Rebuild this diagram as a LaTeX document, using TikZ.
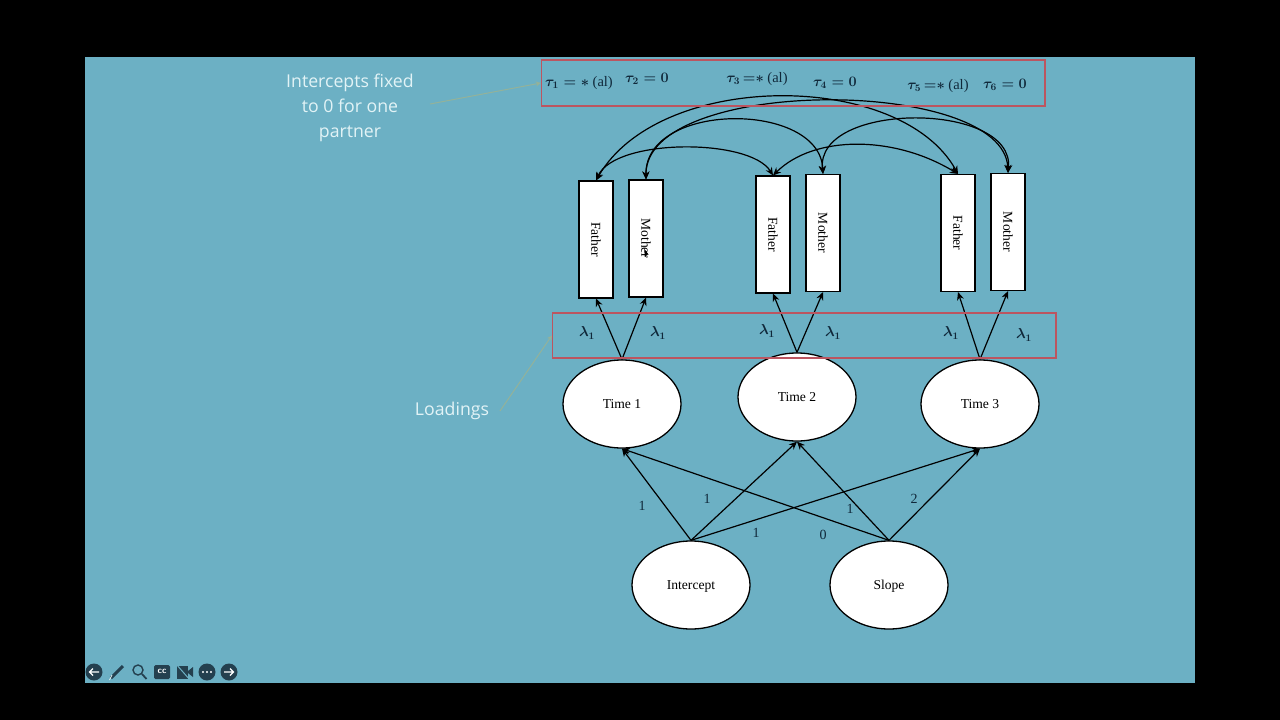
\documentclass[tikz,border=0pt]{standalone}
\usepackage{amsmath}
\usepackage{fontspec}
\usepackage{graphicx}
\setmainfont{Liberation Serif}
\newfontfamily\slidefont{Open Sans}
\usetikzlibrary{shapes.geometric,arrows.meta}
\definecolor{slidebg}{HTML}{6CB0C4}
\definecolor{slidetxt}{HTML}{E2F3F6}
\definecolor{redbox}{HTML}{BC5560}
\definecolor{pointer}{HTML}{93B29A}
\definecolor{icon}{HTML}{24404F}
\definecolor{labeltxt}{HTML}{10283A}
\tikzset{
  latent/.style={ellipse,draw=black,fill=white,line width=1.3pt,minimum width=118pt,minimum height=88pt,inner sep=0pt,text height=9pt,text depth=0pt,font=\fontsize{13.6}{15}\selectfont},
  observed/.style={rectangle,draw=black,fill=white,line width=1.1pt,minimum width=34pt,minimum height=117pt,inner sep=0pt,font=\fontsize{13.6}{15}\selectfont},
  link/.style={draw=black,line width=1.2pt,-{Stealth[length=8pt,width=7pt]}},
  covar/.style={draw=black,line width=1.2pt,{Stealth[length=8pt,width=7pt]}-{Stealth[length=8pt,width=7pt]}},
  redframe/.style={rectangle,draw=redbox,line width=1.3pt,fill=none,inner sep=0pt},
  coef/.style={font=\fontsize{14}{15}\selectfont,text=labeltxt,inner sep=0pt},
  lam/.style={font=\fontsize{14}{15}\selectfont,text=labeltxt,inner sep=0pt},
  tau/.style={font=\fontsize{14.5}{15}\selectfont,text=labeltxt,inner sep=0pt},
  note/.style={font=\slidefont\fontsize{17.7}{25}\selectfont,text=slidetxt,align=center,inner sep=0pt},
  pointerline/.style={draw=pointer,line width=1pt,-{Stealth[length=5pt,width=5pt,fill=pointer!60!orange]}},
  iconline/.style={draw=icon,line width=1.4pt},
}
\begin{document}
\begin{tikzpicture}[x=1pt,y=-1pt]
\useasboundingbox (0,0) rectangle (1280,720);
\fill[black] (0,0) rectangle (1280,720);
\fill[slidebg] (85,57) rectangle (1195,683);

% Observed
\node[observed] (f1) at (596,239.5) {\rotatebox{-90}{Father}};
\node[observed] (m1) at (646,238.5) {\rotatebox{-90}{Mother}};
\node[observed] (f2) at (773,234.5) {\rotatebox{-90}{Father}};
\node[observed] (m2) at (823,233) {\rotatebox{-90}{Mother}};
\node[observed] (f3) at (958,233) {\rotatebox{-90}{Father}};
\node[observed] (m3) at (1008,232) {\rotatebox{-90}{Mother}};
\fill[black] (644.5,249) -- (648.5,254.5) -- (646.5,254.5) -- (645.5,257) -- (644.5,256.5) -- cycle;

% Latent
\node[latent] (t1) at (622,404) {Time 1};
\node[latent] (t2) at (797,397) {Time 2};
\node[latent] (t3) at (980,404) {Time 3};
\node[latent] (ic) at (691,585) {Intercept};
\node[latent] (sl) at (889,585) {Slope};

% Loadings
\foreach \a/\b in {t1/f1,t1/m1,t2/f2,t2/m2,t3/f3,t3/m3}
  \draw[link] (\a.north) -- (\b.south);
% Growth
\foreach \a/\b in {ic/t1,ic/t2,ic/t3,sl/t1,sl/t2,sl/t3}
  \draw[link] (\a.north) -- (\b.south);

% Covariances
\draw[covar] (f1.north) .. controls (660,70) and (900,70) .. (f3.north);
\draw[covar] (m1.north) .. controls (645,76) and (1005,76) .. (m3.north);
\draw[covar] (f1.north) .. controls (615,138) and (750,138) .. (f2.north);
\draw[covar] (m1.north) .. controls (645,101) and (820,101) .. (m2.north);
\draw[covar] (f2.north) .. controls (814,135) and (894,135) .. (f3.north);
\draw[covar] (m2.north) .. controls (815,101) and (1015,101) .. (m3.north);

% Red frames
\node[redframe,minimum width=503.5pt,minimum height=46pt] (taubox) at (793.25,83) {};
\node[redframe,minimum width=503.5pt,minimum height=45pt] (loadbox) at (804.25,335.5) {};

% Tau
\node[tau] (tau1) at (579,83) {$\boldsymbol{\tau_1=*}$ (al)};
\node[tau] (tau2) at (647,79) {$\boldsymbol{\tau_2=0}$};
\node[tau] (tau3) at (757,79) {$\boldsymbol{\tau_3\,{=}{*}}$ (al)};
\node[tau] (tau4) at (835,83) {$\boldsymbol{\tau_4=0}$};
\node[tau] (tau5) at (938,86) {$\boldsymbol{\tau_5\,{=}{*}}$ (al)};
\node[tau] (tau6) at (1005,85) {$\boldsymbol{\tau_6=0}$};

% Lambda
\node[lam] (l1) at (587,333) {$\boldsymbol{\lambda_1}$};
\node[lam] (l2) at (658,333) {$\boldsymbol{\lambda_1}$};
\node[lam] (l3) at (767,331) {$\boldsymbol{\lambda_1}$};
\node[lam] (l4) at (833,333) {$\boldsymbol{\lambda_1}$};
\node[lam] (l5) at (951,333) {$\boldsymbol{\lambda_1}$};
\node[lam] (l6) at (1024,335) {$\boldsymbol{\lambda_1}$};

% Path coefficients
\node[coef] (c1) at (642,506) {1};
\node[coef] (c2) at (707,499) {1};
\node[coef] (c3) at (756,533) {1};
\node[coef] (c4) at (823,535) {0};
\node[coef] (c5) at (850,509) {1};
\node[coef] (c6) at (914,499) {2};

% Notes
\node[note] (n1) at (350,108) {Intercepts fixed\\to 0 for one\\partner};
\node[note] (n2) at (452,411) {Loadings};
\coordinate (n1p) at (430,104);
\coordinate (n2p) at (500,411);
\draw[pointerline] (n1p) -- (taubox.west);
\draw[pointerline] (n2p) -- (loadbox.west);

% Toolbar icons
\fill[icon] (94,672) circle (8.5);
\draw[white,line width=1.2pt] (99,672) -- (89.5,672) (93,668.5) -- (89.5,672) -- (93,675.5);
\draw[icon,line width=3pt] (111,678) -- (123,666);
\draw[slidetxt,line width=0.7pt] (109.5,680) -- (112,675);
\draw[iconline] (138,670) circle (5);
\draw[iconline,line width=1.8pt] (142,674) -- (146.5,679);
\fill[icon,rounded corners=1.5pt] (154,665) rectangle (170,679);
\node[text=white,inner sep=0pt,font=\sffamily\bfseries\fontsize{9}{9}\selectfont] (cc) at (162,671.5) {cc};
\fill[icon] (177,665.5) rectangle (188,678.5);
\fill[icon] (188,671) -- (193,667) -- (193,677) -- (188,673) -- cycle;
\draw[slidebg,line width=1pt] (176,664) -- (190,680);
\fill[icon] (207,672) circle (8.5);
\fill[white] (203,672) circle (1.1) (207,672) circle (1.1) (211,672) circle (1.1);
\fill[icon] (229,672) circle (8.5);
\draw[white,line width=1.2pt] (224,672) -- (233.5,672) (230,668.5) -- (233.5,672) -- (230,675.5);
\end{tikzpicture}
\end{document}
